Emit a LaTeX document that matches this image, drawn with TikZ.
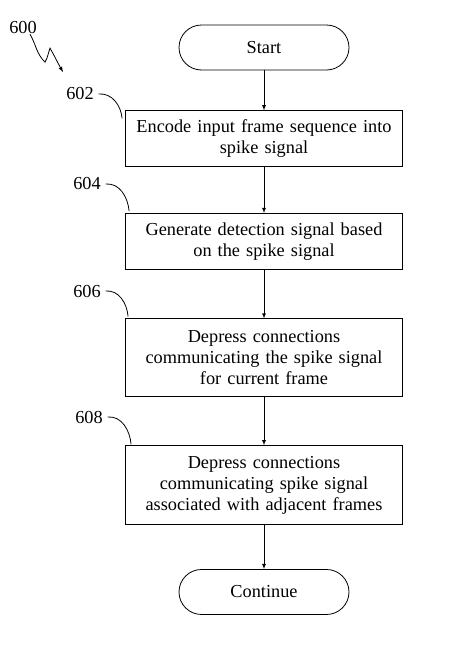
\documentclass[tikz,border=0pt]{standalone}
\usepackage{fontspec}
\setmainfont{Liberation Serif}
\usetikzlibrary{arrows,positioning}

\begin{document}
\begin{tikzpicture}[x=1pt, y=1pt, >=latex,
  every node/.style={font=\fontsize{18.3}{21}\selectfont},
  term/.style={draw, thick, rounded corners=22.5pt, minimum width=170pt, minimum height=45pt},
  stepbox/.style={draw, thick, text width=267pt, inner xsep=5pt, inner ysep=9pt, align=center},
  ref/.style={inner sep=2pt, outer sep=3pt}]
  \useasboundingbox (0,0) rectangle (474,-651);
  \node[term] (start) at (264,-47.5) {Start};
  \node[stepbox, below=40pt of start] (b602) {Encode input frame sequence into\\ spike signal};
  \node[stepbox, below=46pt of b602] (b604) {Generate detection signal based\\ on the spike signal};
  \node[stepbox, below=49pt of b604, minimum height=78pt] (b606) {Depress connections\\ communicating the spike signal\\ for current frame};
  \node[stepbox, below=48pt of b606, minimum height=79pt] (b608) {Depress connections\\ communicating spike signal\\ associated with adjacent frames};
  \node[term, below=44pt of b608] (cont) {Continue};
  \path[->, thick]
  (start) edge (b602)
  (b602) edge (b604)
  (b604) edge (b606)
  (b606) edge (b608)
  (b608) edge (cont)
  ;
  % reference numerals
  \node[ref] (l600) at (23,-28) {600};
  \node[ref] (l602) at (80,-94) {602};
  \node[ref] (l604) at (87,-184) {604};
  \node[ref] (l606) at (87,-291) {606};
  \node[ref] (l608) at (89,-417) {608};
  \coordinate (t600) at (63,-72);
  \draw[->, thick] ([xshift=7pt,yshift=5pt]l600.south) to[out=-60,in=135] ++(15,-28)
    to[out=60,in=-110] ++(5,14) to[out=-60,in=120] (t600);
  \draw[thick] (l602.east) to[out=5,in=95] ([xshift=-3pt,yshift=-8pt]b602.north west);
  \draw[thick] (l604.east) to[out=5,in=95] ([xshift=4pt,yshift=2pt]b604.north west);
  \draw[thick] (l606.east) to[out=5,in=95] ([xshift=3pt,yshift=2pt]b606.north west);
  \draw[thick] (l608.east) to[out=5,in=95] ([xshift=6pt,yshift=1pt]b608.north west);
\end{tikzpicture}
\end{document}
